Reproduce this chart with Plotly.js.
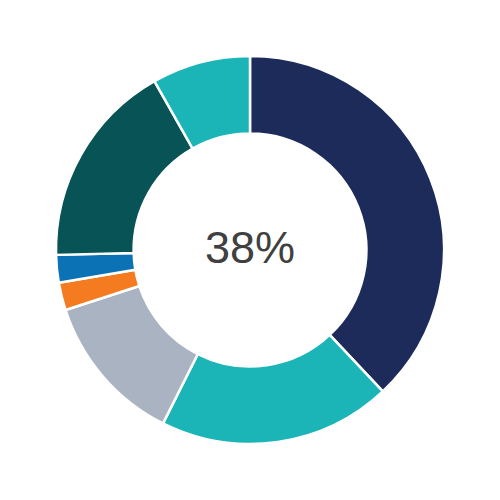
<!DOCTYPE html>
<html>
<head>
<meta charset="utf-8">
<script src="https://cdn.plot.ly/plotly-3.0.1.min.js"></script>
<style>
  html, body { margin: 0; padding: 0; background: #fff; }
  #donut { width: 500px; height: 500px; }
</style>
</head>
<body>
<div id="donut"></div>
<script>
// slices clockwise from 12 o'clock
const sliceNames = ["A", "B", "C", "D", "E", "F", "G"];
const sliceValues = [38, 19.4, 12.6, 2.3, 2.3, 17.2, 8.2];
const sliceColors = ["#1c2b5a", "#1bb5b8", "#a9b3c1", "#f47b20", "#0b72b5", "#075355", "#1bb5b8"];
const centerLabel = "38%";

const trace = {
    type: "pie",
    labels: sliceNames,
    values: sliceValues,
    hole: 0.6,
    sort: false,
    direction: "clockwise",
    rotation: 0,
    textinfo: "none",
    hoverinfo: "none",
    marker: { colors: sliceColors, line: { color: "#ffffff", width: 2.5 } }
};

const layout = {
    width: 500,
    height: 500,
    margin: { l: 56, r: 56, t: 56, b: 56 },
    showlegend: false,
    paper_bgcolor: "#ffffff",
    annotations: [{
        text: centerLabel,
        x: 0.5, y: 0.5, xref: "paper", yref: "paper",
        yshift: 3,
        showarrow: false,
        font: { family: "Liberation Sans, Arial, sans-serif", size: 45, color: "#404040" }
    }]
};

Plotly.newPlot("donut", [trace], layout, { displayModeBar: false, staticPlot: true });
</script>
</body>
</html>
